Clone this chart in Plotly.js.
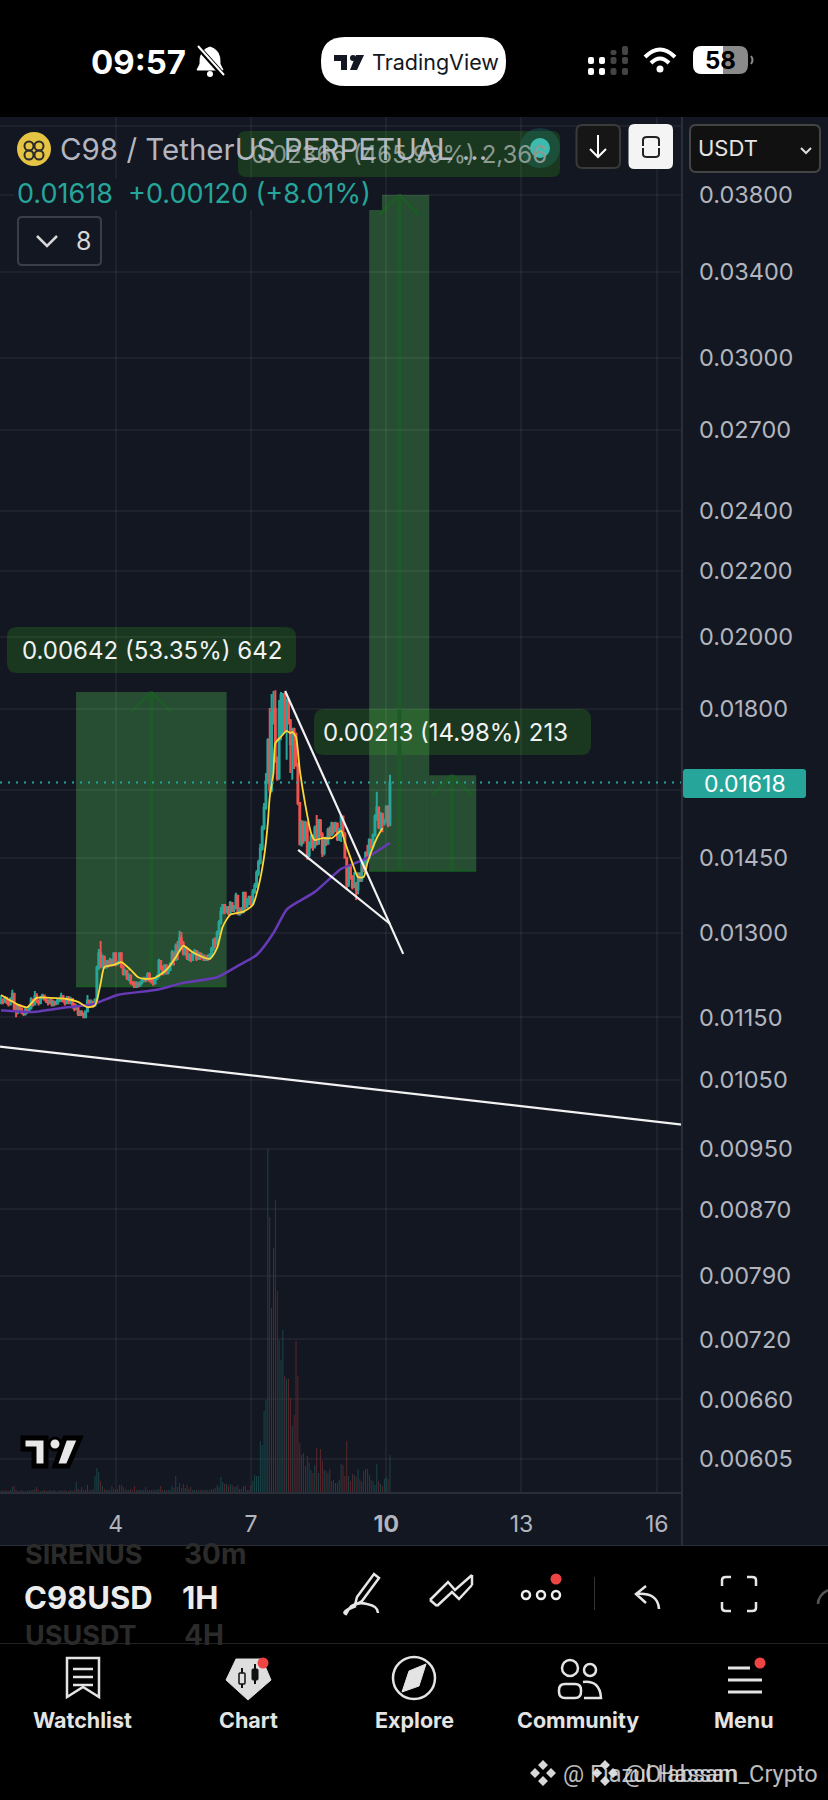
<!DOCTYPE html>
<html><head><meta charset="utf-8">
<script src="https://cdn.plot.ly/plotly-3.0.1.min.js"></script>
<style>html,body{margin:0;padding:0;background:#000}#c{width:828px;height:1800px}</style>
</head><body><div id="c"></div>
<script>
// ---------- chart values ----------
const firstCandleDay = 1.4583; // hourly candles
const closes = [.01180,.01176,.01183,.01178,.01172,.01180,.01190,.01165,.01162,.01170,.01165,.01158,.01156,.01163,.01160,.01166,.01180,.01172,.01186,.01178,.01174,.01182,.01187,.01182,.01178,.01175,.01179,.01172,.01176,.01173,.01178,.01180,.01186,.01178,.01174,.01182,.01176,.01181,.01172,.01165,.01168,.01156,.01158,.01155,.01150,.01160,.01178,.01170,.01176,.01170,.01180,.01236,.01262,.01240,.01255,.01238,.01246,.01240,.01250,.01242,.01262,.01242,.01244,.01262,.01238,.01226,.01230,.01218,.01222,.01210,.01208,.01202,.01208,.01204,.01210,.01214,.01216,.01214,.01224,.01214,.01212,.01208,.01216,.01220,.01248,.01236,.01226,.01240,.01228,.01232,.01242,.01262,.01250,.01275,.01268,.01290,.01280,.01262,.01270,.01254,.01258,.01250,.01262,.01266,.01252,.01262,.01254,.01258,.01250,.01256,.01252,.01258,.01270,.01286,.01280,.01300,.01320,.01340,.01354,.01342,.01348,.01338,.01358,.01344,.01350,.01372,.01338,.01345,.01340,.01378,.01352,.01362,.01370,.01356,.01380,.01392,.01418,.01440,.01470,.01515,.01560,.01620,.01720,.01600,.01790,.01800,.01670,.01628,.01800,.01838,.01840,.01746,.01822,.01770,.01710,.01748,.01735,.01660,.01570,.01480,.01525,.01488,.01525,.01455,.01478,.01495,.01475,.01515,.01480,.01530,.01500,.01460,.01488,.01480,.01510,.01500,.01525,.01508,.01524,.01490,.01510,.01540,.01500,.01450,.01395,.01430,.01410,.01390,.01395,.01385,.01415,.01405,.01440,.01430,.01460,.01450,.01488,.01475,.01498,.01540,.01560,.01517,.01545,.01525,.01530,.01562,.01522,.01618];
const highs = [.01187,.01182,.01186,.01185,.01180,.01184,.01197,.01190,.01172,.01172,.01172,.01166,.01160,.01166,.01165,.01170,.01184,.01182,.01195,.01191,.01180,.01186,.01190,.01188,.01184,.01180,.01182,.01180,.01179,.01178,.01181,.01183,.01192,.01188,.01180,.01186,.01186,.01185,.01182,.01174,.01172,.01170,.01162,.01162,.01158,.01162,.01188,.01180,.01180,.01178,.01182,.01240,.01270,.01285,.01260,.01258,.01250,.01250,.01254,.01252,.01264,.01264,.01248,.01264,.01262,.01240,.01234,.01232,.01226,.01224,.01212,.01212,.01212,.01210,.01212,.01218,.01220,.01220,.01228,.01228,.01218,.01216,.01218,.01224,.01252,.01250,.01240,.01242,.01242,.01236,.01246,.01268,.01266,.01280,.01285,.01304,.01302,.01285,.01274,.01272,.01262,.01262,.01266,.01270,.01268,.01266,.01264,.01262,.01260,.01258,.01260,.01262,.01274,.01290,.01292,.01304,.01324,.01350,.01356,.01356,.01352,.01352,.01362,.01360,.01354,.01378,.01372,.01349,.01350,.01380,.01380,.01368,.01372,.01372,.01386,.01398,.01424,.01446,.01480,.01520,.01570,.01640,.01725,.01803,.01840,.01848,.01850,.01680,.01824,.01845,.01842,.01842,.01828,.01825,.01774,.01752,.01752,.01740,.01665,.01570,.01532,.01530,.01530,.01528,.01485,.01500,.01500,.01520,.01543,.01534,.01534,.01505,.01495,.01495,.01515,.01518,.01528,.01526,.01528,.01526,.01514,.01545,.01542,.01505,.01450,.01435,.01435,.01414,.01420,.01400,.01420,.01420,.01445,.01445,.01464,.01478,.01492,.01490,.01502,.01545,.01596,.01562,.01550,.01548,.01535,.01565,.01565,.01636];
const lows = [.01172,.01172,.01174,.01172,.01168,.01170,.01176,.01160,.01150,.01155,.01160,.01155,.01152,.01153,.01156,.01158,.01163,.01168,.01170,.01174,.01170,.01172,.01180,.01178,.01174,.01170,.01172,.01168,.01168,.01170,.01171,.01175,.01176,.01175,.01170,.01172,.01172,.01172,.01165,.01160,.01162,.01152,.01152,.01152,.01149,.01149,.01158,.01166,.01168,.01166,.01168,.01172,.01232,.01235,.01235,.01234,.01234,.01236,.01238,.01238,.01240,.01238,.01240,.01242,.01235,.01222,.01222,.01214,.01212,.01206,.01204,.01200,.01200,.01201,.01203,.01206,.01210,.01210,.01212,.01210,.01208,.01204,.01206,.01214,.01218,.01232,.01222,.01224,.01224,.01224,.01230,.01240,.01240,.01248,.01250,.01264,.01268,.01258,.01258,.01250,.01248,.01246,.01248,.01258,.01248,.01250,.01250,.01252,.01248,.01248,.01248,.01250,.01254,.01266,.01272,.01278,.01296,.01316,.01336,.01336,.01338,.01334,.01336,.01340,.01340,.01346,.01334,.01333,.01336,.01338,.01345,.01348,.01354,.01352,.01354,.01376,.01388,.01412,.01436,.01465,.01510,.01555,.01615,.01592,.01595,.01760,.01665,.01622,.01624,.01720,.01735,.01740,.01672,.01760,.01640,.01624,.01650,.01655,.01565,.01476,.01474,.01480,.01485,.01446,.01452,.01470,.01465,.01470,.01476,.01478,.01495,.01452,.01455,.01475,.01478,.01492,.01496,.01500,.01505,.01486,.01486,.01484,.01495,.01448,.01385,.01390,.01405,.01385,.01388,.01364,.01375,.01400,.01400,.01420,.01425,.01445,.01450,.01470,.01470,.01495,.01530,.01512,.01510,.01505,.01520,.01525,.01516,.01518];
const volumes = [2,3,2,3,2,3,6,7,3,2, 2,3,2,2,2,3,2,3,4,6, 3,2,2,3,2,2,3,2,3,2, 2,2,3,2,3,2,2,3,2,3, 11,4,3,6,3,3,8,3,3,4, 17,25,21,12,7,4,3,3,3,7, 4,3,4,8,8,6,4,3,3,4, 3,7,3,3,3,3,3,6,3,3, 3,3,3,3,4,7,3,3,3,3, 3,7,5,17,6,10,5,9,5,8, 4,6,3,3,3,3,3,3,3,3, 3,3,4,4,5,8,6,16,11,9, 9,7,9,8,6,6,8,4,4,7, 7,3,3,8,12,18,17,17,52,48, 82,93,344,276,185,245,293,202,153,133, 163,117,114,114,95,67,78,152,117,50, 38,40,27,37,30,23,20,28,45,20, 44,32,23,22,20,24,12,13,10,10, 13,29,28,17,52,17,12,19,18,16, 24,14,11,22,24,24,18,13,12,8, 29,12,9,7,14,16,14,38];
const emaFastHours = [0,10,14,19,26,35,41,46,50,53,55,60,64,69,73,78,82,88,93,97,102,111,115,118,122,129,134,137,140,142,143,145,146,149,152,154,155,157,159,162,165,167,171,176,181,183,187,190,193,195,200,203];
const emaFastValues = [.01188,.01170,.01167,.01183,.01183,.01181,.01176,.01167,.01170,.01208,.01237,.01241,.01246,.01232,.01219,.01216,.01218,.01232,.01255,.01276,.01264,.01252,.01272,.01312,.01335,.01341,.01354,.01390,.01452,.01525,.01584,.01640,.01713,.01729,.01744,.01738,.01741,.01728,.01648,.01565,.01503,.01488,.01492,.01492,.01508,.01484,.01439,.01410,.01410,.01439,.01492,.01514];
const emaSlowHours = [0,17,35,49,62,83,97,115,127,136,145,152,158,167,177,181,193,207];
const emaSlowValues = [.01162,.01159,.01167,.01172,.01188,.01197,.01209,.01219,.01241,.01259,.01300,.01345,.01360,.01380,.01414,.01427,.01446,.01482];
const priceTicks = [.042,.038,.034,.030,.027,.024,.022,.020,.018,.016,.0145,.013,.0115,.0105,.0095,.0087,.0079,.0072,.0066,.00605];
const priceLabels = ['','0.03800','0.03400','0.03000','0.02700','0.02400','0.02200','0.02000','0.01800','','0.01450','0.01300','0.01150','0.01050','0.00950','0.00870','0.00790','0.00720','0.00660','0.00605'];
const dayTicks = [4,7,10,13,16];
const dayLabels = ['4','7','<b>10</b>','13','16'];
const lastPrice = 0.01618;
const trendDays = [1.435,16.56], trendPrices = [.01102,.00984];
const wedgeTopDays = [7.758,10.377], wedgeTopPrices = [.01848,.01261];
const wedgeLowDays = [8.047,10.088], wedgeLowPrices = [.01467,.01317];
// long-position measures: left day, right day, entry, target
const measureA = [3.121,6.461,.01203,.01845];
const measureB = [9.622,10.954,.01423,.03800];
const measureC = [10.954,11.996,.01423,.01635];
const centerDays = [4.785,10.288,11.465];

// ---------- layout helpers ----------
const W=828,H=1800, BG='#131722';
const px=x=>x/W, py=y=>1-y/H;
const path=s=>s.replace(/(-?[\d.]+),(-?[\d.]+)/g,(m,a,b)=>px(+a)+','+py(+b));
const shapes=[], notes=[];
function rectPx(x0,y0,x1,y1,fill,layer,line,lw){shapes.push({type:'rect',xref:'paper',yref:'paper',x0:px(x0),x1:px(x1),y0:py(y1),y1:py(y0),fillcolor:fill,line:{width:lw||0,color:line||fill},layer:layer||'above'});}
function rr(x0,y0,x1,y1,r,fill,line,lw,layer){const d=`M${x0+r},${y0} L${x1-r},${y0} Q${x1},${y0} ${x1},${y0+r} L${x1},${y1-r} Q${x1},${y1} ${x1-r},${y1} L${x0+r},${y1} Q${x0},${y1} ${x0},${y1-r} L${x0},${y0+r} Q${x0},${y0} ${x0+r},${y0} Z`;
 shapes.push({type:'path',xref:'paper',yref:'paper',path:path(d),fillcolor:fill||'rgba(0,0,0,0)',line:{width:lw||0,color:line||'rgba(0,0,0,0)'},layer:layer||'above'});}
function stroke(d,color,w,fill){shapes.push({type:'path',xref:'paper',yref:'paper',path:path(d),fillcolor:fill||'rgba(0,0,0,0)',line:{width:w,color:color},layer:'above'});}
function dot(x,y,r,fill,line,lw){shapes.push({type:'circle',xref:'paper',yref:'paper',x0:px(x-r),x1:px(x+r),y0:py(y+r),y1:py(y-r),fillcolor:fill||'rgba(0,0,0,0)',line:{width:lw||0,color:line||'rgba(0,0,0,0)'},layer:'above'});}
function T(text,x,y,size,color,opt){opt=opt||{};notes.push({text:opt.bold?'<b>'+text+'</b>':text,xref:'paper',yref:'paper',x:px(x),y:py(y),xanchor:opt.anchor||'left',yanchor:'middle',showarrow:false,borderpad:0,font:{family:opt.font||'Inter, Roboto, sans-serif',size:size,color:color}});}
function dataLine(x0,y0,x1,y1,color,w,layer,dash){shapes.push({type:'line',xref:'x',yref:'y',x0,x1,y0,y1,line:{color,width:w,dash:dash||'solid'},layer:layer||'below'});}
function measure(m){shapes.push({type:'rect',xref:'x',yref:'y',x0:m[0],x1:m[1],y0:m[2],y1:m[3],fillcolor:'rgba(76,175,80,0.36)',line:{width:0},layer:'below'});
 dataLine(m[0],m[2],m[1],m[2],'#1b5a25',2);}
function arrow(day,low,high){dataLine(day,low,day,high,'#1e5a27',4);
 dataLine(day-.44,high*.9714,day,high,'#1e5a27',3);dataLine(day,high,day+.44,high*.9714,'#1e5a27',3);}

// label boxes sit under the green zones
rr(7,627,296,673,10,'#19381f',null,0,'below');
rr(314,709,591,755,10,'#19381f',null,0,'below');
rr(238,131,560,177,8,'#19381f',null,0,'below');
// frame
measure(measureA);measure(measureB);measure(measureC);
arrow(centerDays[0],measureA[2],measureA[3]);
arrow(centerDays[1],measureB[2],measureB[3]);
arrow(centerDays[2],measureC[2],measureC[3]);
shapes.push({type:'line',xref:'paper',yref:'y',x0:0,x1:px(682),y0:lastPrice,y1:lastPrice,line:{color:'#26a69a',width:2,dash:'2px,6px'},layer:'above'});

// separators and black panels
rectPx(681,117,683,1546,'#2a2e39');
rectPx(0,1492,682,1494,'#2a2e39');
rectPx(0,1545,W,1547,'#2a2e39');
rectPx(0,0,W,117,'#000');
rectPx(0,1546,W,H,'#000');
rectPx(0,1643,W,1644,'#222');

// price tag
rr(683,769,806,798,3,'#26a69a');
T('0.01618',745,783.5,23,'#ffffff',{anchor:'center'});

// status bar
T('09:57',90,62,33,'#fff',{bold:true,font:'Inter'});
stroke('M210,47 Q199,50 200,64 L197,70 L223,70 L220,64 Q221,50 210,47 Z','#fff',1,'#fff');
dot(210,74,3,'#fff');
stroke('M198,47 L224,76','#000',5);stroke('M198,46 L224,75','#fff',2);
rr(321,37,506,86,24,'#fff');
stroke('M334,55 L347,55 L347,70 L341,70 L341,61 L334,61 Z',BG,0,BG);
dot(353,58,3,BG);
stroke('M356,55 L364,55 L357,70 L350,70 Z',BG,0,BG);
T('TradingView',371,62,21.5,'#131722',{font:'Inter'});
[591,602,613.5,625].forEach((x,i)=>{const c=i<2?'#fff':'#444';
 rr(x-3,57,x+3,64,2,c);rr(x-3,68,x+3,75,2,c);
 if(i==2)rr(x-3,50,x+3,55,2,c); if(i==3)rr(x-3,46,x+3,55,2,c);});
stroke('M645,57 Q660,42 675,57','#fff',4);stroke('M651,63 Q660,54 669,63','#fff',4);
dot(660,69,3.5,'#fff');
rr(693,46,748,74,9,'#8a8a8a');rr(693,46,723,74,9,'#fff');rectPx(715,46,723,74,'#fff');
stroke('M751,56 Q754,60 751,64','#8a8a8a',2);
T('58',720,61,24,'#000',{bold:true,anchor:'center',font:'Inter'});

// header overlay
T('0.02366 (465.99%) 2,366',250,154,24,'#8b9a90',{font:'Inter'});
dot(34,149,17,'#e6c443');
dot(29,146,4.5,null,'#2a2a2a',2);dot(39,146,4.5,null,'#2a2a2a',2);dot(29,155,4.5,null,'#2a2a2a',2);dot(39,155,4.5,null,'#2a2a2a',2);
T('C98 / TetherUS PERPETUAL ...',59,149,29.5,'rgba(190,193,203,0.95)',{font:'Inter'});
dot(540,148,20,'rgba(38,166,154,0.22)');dot(540,148,10,'#3dbbae');
rr(576.5,125,620,168,6,'#161616','#3a3a3a',2);
stroke('M598,135 L598,157 M590,149 L598,157 L606,149','#fff',2);
rr(628.5,124,673,169,6,'#f4f4f4');
stroke('M643,146 L643,140 Q643,137 647,137 L655,137 Q659,137 659,140 L659,146 M643,148 L643,154 Q643,157 647,157 L655,157 Q659,157 659,154 L659,148','#222',2);
rr(690,125,820,172,6,'#111','#444',2);
T('USDT',697,148,22,'#e4e4e4',{font:'Inter'});
stroke('M801,148 L806,153 L811,148','#ddd',2);
rectPx(14,178,382,210,BG);
T('0.01618 &#160;+0.00120 (+8.01%)',16,193,27,'#26a69a',{font:'Inter'});
rr(18,217,101,265,4,BG,'#3a3e4a',2);
stroke('M37,236 L47,246 L57,236','#d8d8d8',2.5);
T('8',83,241,25,'#d8d8d8',{anchor:'center',font:'Inter'});

// measure labels
T('0.00642 (53.35%) 642',21,650,24,'#f2f2f2',{font:'Inter'});
T('0.00213 (14.98%) 213',322,733,24,'#f2f2f2',{font:'Inter'});

// TradingView mark
stroke('M23,1438 L46,1438 L46,1466 L34,1466 L34,1449 L23,1449 Z','#000',5,'#e8e8e8');
dot(55,1444,6,'#e8e8e8','#000',3);
stroke('M65,1438 L80,1438 L68,1466 L55,1466 Z','#000',5,'#e8e8e8');

// symbol rows
T('SIRENUS',24,1554,27,'#2b2b2b',{bold:true,font:'Inter'});
T('30m',183,1554,28,'#2b2b2b',{bold:true,font:'Inter'});
T('C98USD',23,1597,31,'#ececec',{bold:true,font:'Inter'});
T('1H',181,1597,31,'#ececec',{bold:true,font:'Inter'});
T('USUSDT',24,1635,27,'#2b2b2b',{bold:true,font:'Inter'});
T('4H',183,1635,28,'#2b2b2b',{bold:true,font:'Inter'});
rectPx(148,1546,175,1643,'#000');
rectPx(136,1546,148,1643,'rgba(0,0,0,0.5)');

// tool icons
stroke('M357,1597 L374,1574 L379,1578 L362,1601 L355,1605 Z','#e6e6e6',2.5);
stroke('M356,1606 Q340,1612 346,1614 Q352,1600 367,1604 Q378,1606 378,1613','#e6e6e6',2.5);
stroke('M430,1600 L448,1582 L455,1590 L472,1575 M437,1606 L452,1592 L459,1599 L472,1585 M430,1600 L437,1606 M472,1575 L472,1585','#e6e6e6',2.5);
[526,541,556].forEach(x=>dot(x,1595,4,null,'#eee',2.5));
dot(556,1579,5.5,'#ef4444');
rectPx(594,1577,595,1610,'#333');
stroke('M646,1586 L636,1594 L646,1603 M636,1594 Q658,1592 659,1609','#e6e6e6',2.5);
stroke('M722,1586 L722,1580 Q722,1577 726,1577 L731,1577 M747,1577 L752,1577 Q756,1577 756,1580 L756,1586 M722,1602 L722,1608 Q722,1611 726,1611 L731,1611 M747,1611 L752,1611 Q756,1611 756,1608 L756,1602','#e6e6e6',2.5);
stroke('M828,1590 Q818,1595 818,1604','#555',2.5);

// tab bar icons
stroke('M67,1658 L99,1658 L99,1697 L83,1687 L67,1697 Z','#e4e4e4',2.5);
stroke('M73,1669 L93,1669 M73,1677 L93,1677 M73,1685 L93,1685','#e4e4e4',2.5);
stroke('M236,1659 L262,1659 L271,1680 L248,1700 L226,1680 Z','#dedede',1,'#dedede');
stroke('M242,1668 L242,1688 M255,1664 L255,1684','#111',2);rr(239,1673,245,1684,1,'#dedede','#111',1.5);rr(252,1669,258,1680,1,'#111','#111',1);
dot(263,1663,5.5,'#ef4444');
dot(414,1678,21,null,'#e4e4e4',2.5);
stroke('M426,1664 L419,1686 L402,1692 L409,1671 Z','#e4e4e4',1,'#e4e4e4');
dot(570,1668,8,null,'#e4e4e4',2.5);dot(590,1670,6,null,'#e4e4e4',2.5);
rr(559,1684,581,1698,6,null,'#e4e4e4',2.5);
stroke('M583,1682 Q600,1680 601,1698 L584,1698','#e4e4e4',2.5);
stroke('M728,1668 L750,1668 M728,1680 L762,1680 M728,1692 L762,1692','#e4e4e4',3);
dot(760,1663,5.5,'#ef4444');
T('Watchlist',82,1720,21.5,'#e4e4e4',{bold:true,anchor:'center',font:'Inter'});
T('Chart',248,1720,21.5,'#e4e4e4',{bold:true,anchor:'center',font:'Inter'});
T('Explore',414,1720,21.5,'#e4e4e4',{bold:true,anchor:'center',font:'Inter'});
T('Community',578,1720,21.5,'#e4e4e4',{bold:true,anchor:'center',font:'Inter'});
T('Menu',744,1720,21.5,'#e4e4e4',{bold:true,anchor:'center',font:'Inter'});
// watermark
[[543,1773],[605,1773]].forEach(([x,y])=>{
 stroke(`M${x},${y-13} L${x+5},${y-8} L${x},${y-3} L${x-5},${y-8} Z M${x},${y+3} L${x+5},${y+8} L${x},${y+13} L${x-5},${y+8} Z M${x-8},${y-5} L${x-3},${y} L${x-8},${y+5} L${x-13},${y} Z M${x+8},${y-5} L${x+13},${y} L${x+8},${y+5} L${x+3},${y} Z`,'#d8d8d8',0,'#d8d8d8');});
T('@ Fiazul Hassan',562,1774,23.5,'rgba(225,225,225,0.85)',{font:'Roboto'});
T('@Olabsam_Crypto',623,1774,23.5,'rgba(225,225,225,0.85)',{font:'Roboto'});

// ---------- traces ----------
const hours=closes.map((_,i)=>firstCandleDay+i/24);
const opens=closes.map((c,i)=>i?closes[i-1]:c);
const up=closes.map((c,i)=>c>=opens[i]);
const hourDay=a=>a.map(h=>firstCandleDay+h/24);
const traces=[
 {type:'bar',x:hours,y:volumes,yaxis:'y2',width:1/24*0.45,marker:{color:up.map(u=>u?'#1a4d4e':'#63292d'),line:{width:0}},hoverinfo:'skip'},
 {type:'candlestick',x:hours,open:opens,high:highs,low:lows,close:closes,whiskerwidth:0,
  increasing:{line:{color:'#26a69a',width:2},fillcolor:'#26a69a'},decreasing:{line:{color:'#ef5350',width:2},fillcolor:'#ef5350'},hoverinfo:'skip'},
 {type:'scatter',mode:'lines',x:hourDay(emaSlowHours),y:emaSlowValues,line:{color:'#673ab7',width:2.5,shape:'spline',smoothing:.6},hoverinfo:'skip'},
 {type:'scatter',mode:'lines',x:hourDay(emaFastHours),y:emaFastValues,line:{color:'#fdd835',width:1.8,shape:'spline',smoothing:.6},hoverinfo:'skip'},
 {type:'scatter',mode:'lines',x:trendDays,y:trendPrices,line:{color:'#f2f2f2',width:2.2},hoverinfo:'skip'},
 {type:'scatter',mode:'lines',x:wedgeTopDays,y:wedgeTopPrices,line:{color:'#f2f2f2',width:2.2},hoverinfo:'skip'},
 {type:'scatter',mode:'lines',x:wedgeLowDays,y:wedgeLowPrices,line:{color:'#f2f2f2',width:2.2},hoverinfo:'skip'}
];
const grid='rgba(255,255,255,0.05)';
const layout={width:W,height:H,margin:{l:0,r:0,t:0,b:0,pad:0},paper_bgcolor:BG,plot_bgcolor:BG,showlegend:false,dragmode:false,
 xaxis:{domain:[0,682/W],range:[1.435,16.56],tickmode:'array',tickvals:dayTicks,ticktext:dayLabels,showgrid:true,gridcolor:grid,gridwidth:2,zeroline:false,showline:false,ticks:'',anchor:'y',rangeslider:{visible:false},
  tickfont:{family:'Inter, Roboto, sans-serif',size:23,color:'#b2b5be'},ticklabelstandoff:15,automargin:false},
 yaxis:{domain:[1-1493/H,1-117/H],type:'log',range:[Math.log10(.00576),Math.log10(.04256)],side:'right',anchor:'x',tickmode:'array',tickvals:priceTicks,ticktext:priceLabels,showgrid:true,gridcolor:grid,gridwidth:2,zeroline:false,showline:false,ticks:'',
  tickfont:{family:'Inter, Roboto, sans-serif',size:23.5,color:'#b2b5be'},ticklabelstandoff:16,automargin:false},
 yaxis2:{overlaying:'y',domain:[1-1493/H,1-117/H],range:[0,1376],visible:false,side:'right',anchor:'x',fixedrange:true},
 shapes:shapes,annotations:notes};
Plotly.newPlot('c',traces,layout,{displayModeBar:false,staticPlot:true});
</script></body></html>
